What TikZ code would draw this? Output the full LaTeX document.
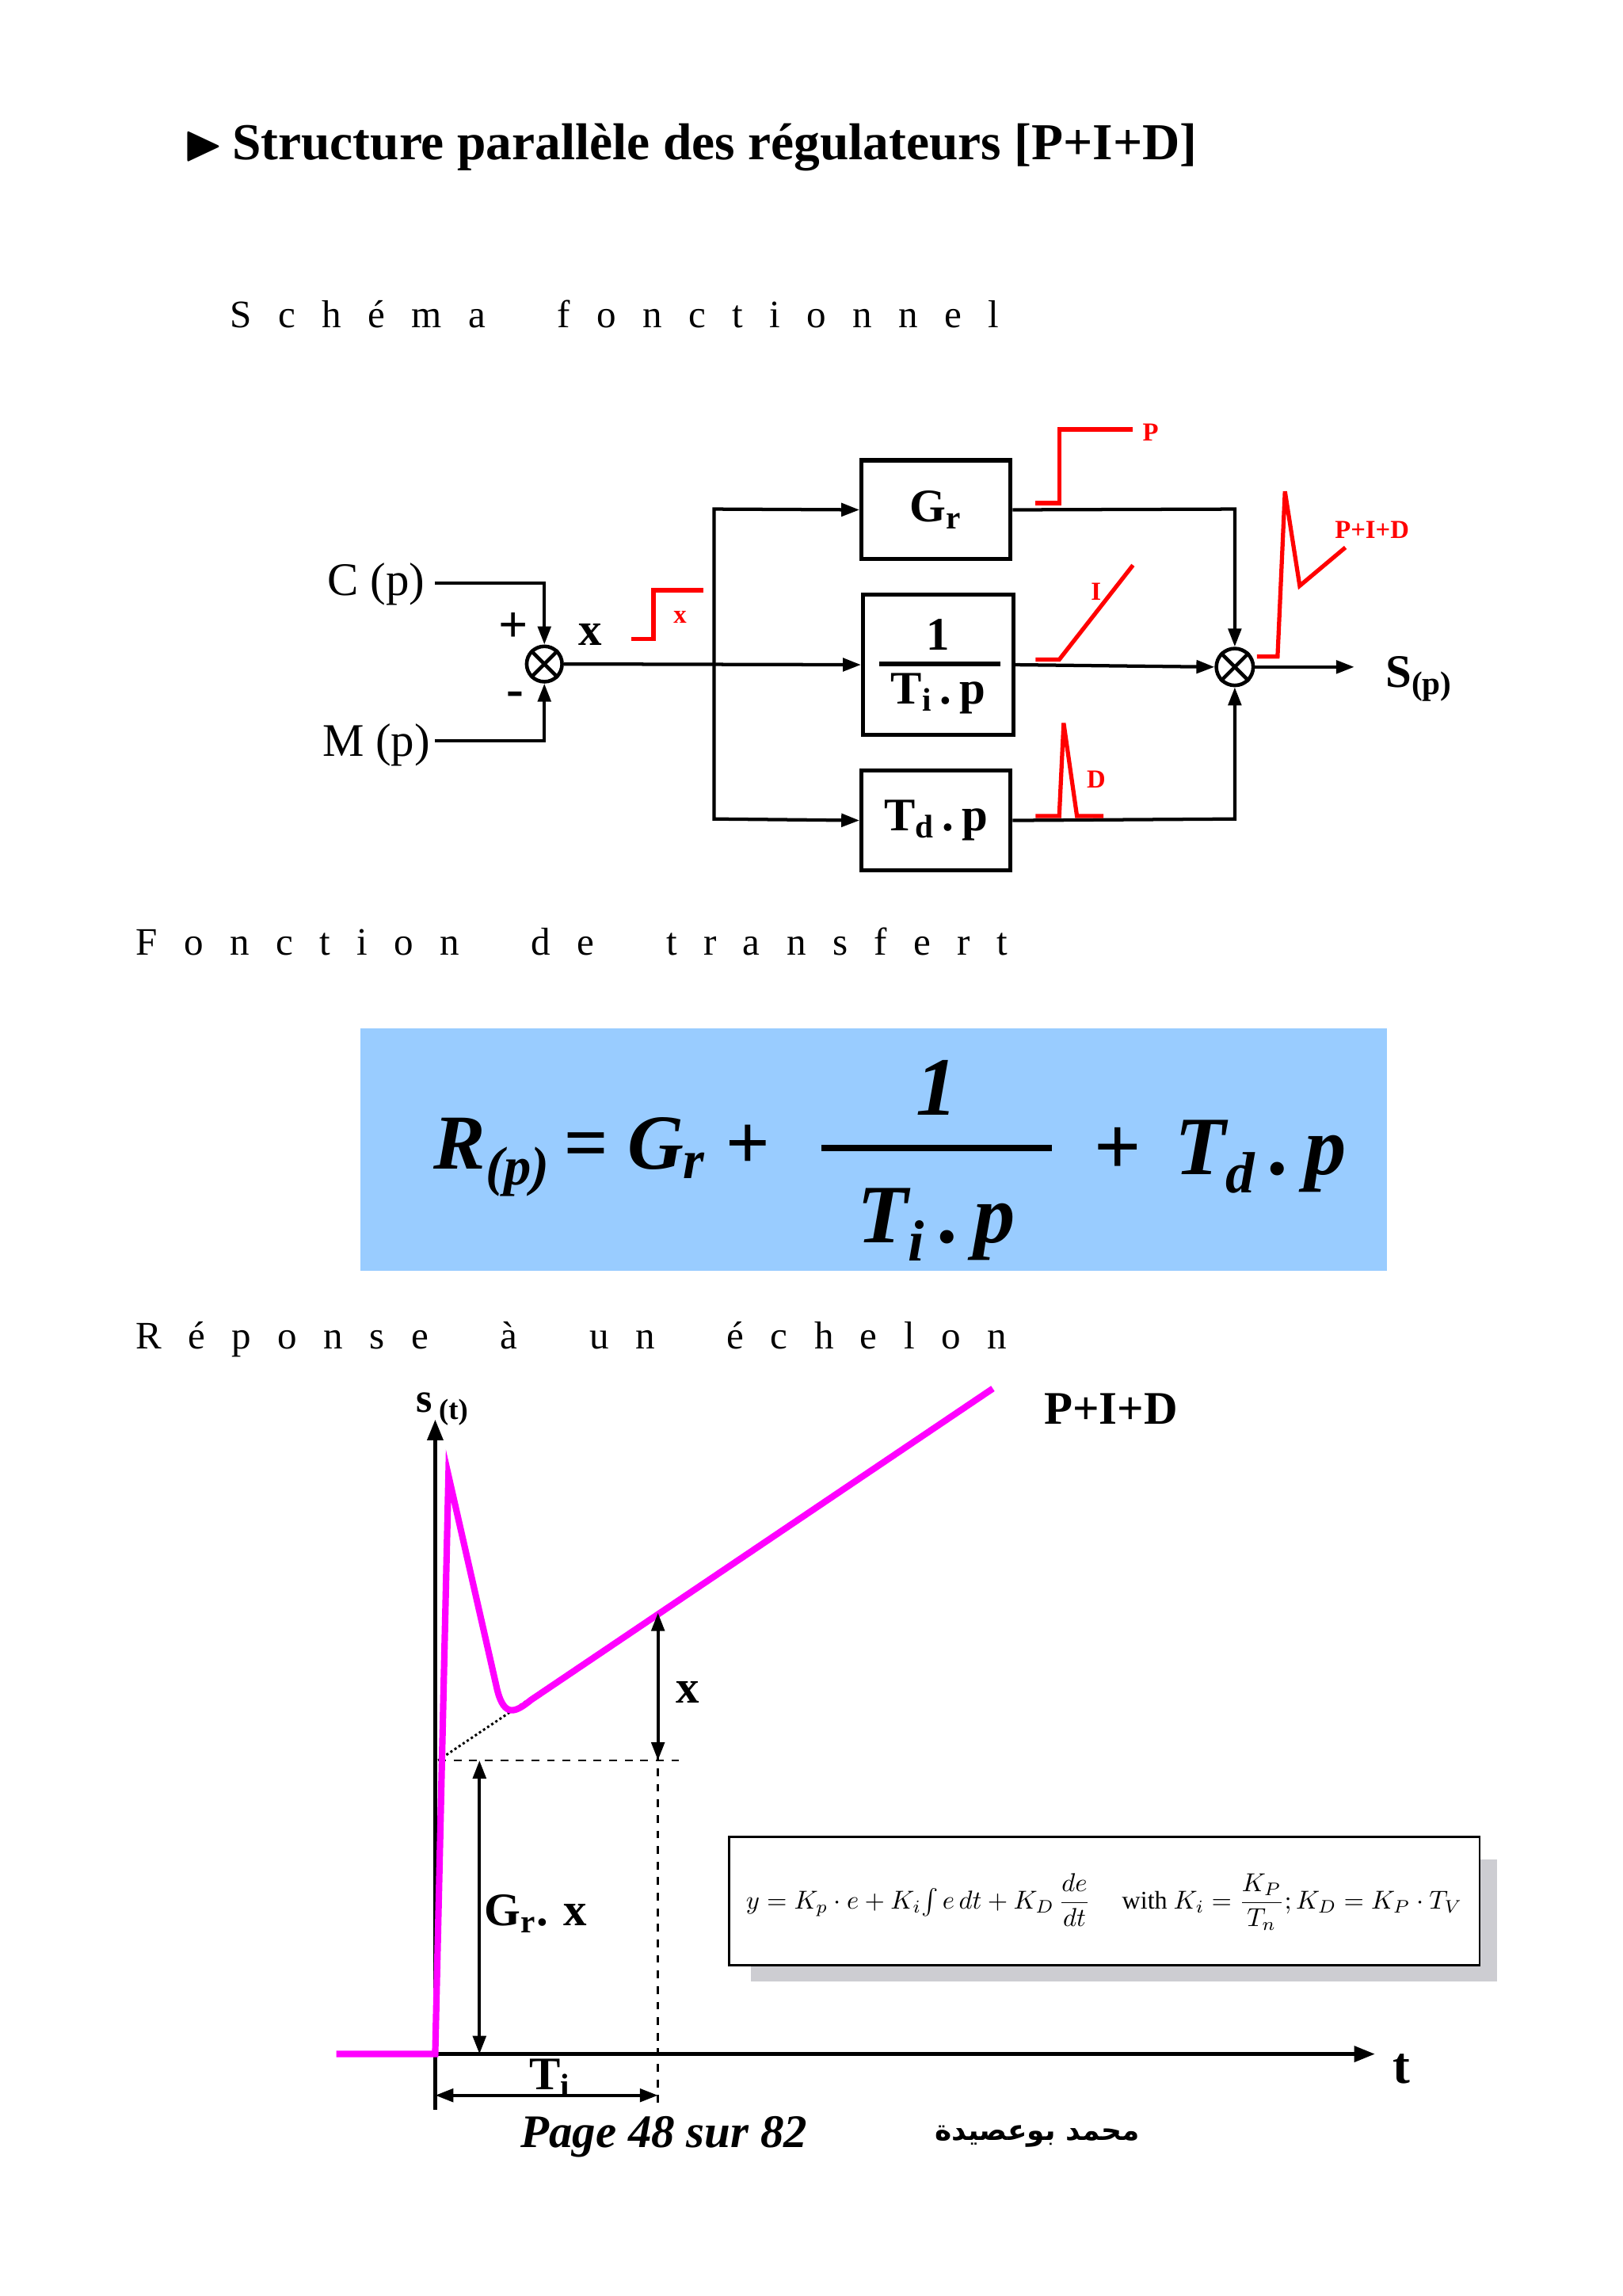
\documentclass[tikz,border=0pt]{standalone}
\usepackage{amsmath,amssymb}
\usepackage{fontspec}
\setmainfont{Liberation Serif}
\newfontfamily\arab[Script=Arabic]{DejaVu Sans}
\usetikzlibrary{arrows.meta}
\definecolor{boxblue}{HTML}{99CCFF}
\definecolor{mag}{HTML}{FF00FF}
\definecolor{shad}{HTML}{CDCDD2}
\TeXXeTstate=1
\newcommand{\ls}{\hspace{0.68em}}
\newcommand{\ws}{\hspace{1.85em}}
\begin{document}
\begin{tikzpicture}[x=0.02cm,y=-0.02cm,
  blk/.style={draw,line width=1.6pt,inner sep=0pt},
  ln/.style={line width=1.3pt},
  ar/.style={ln,-{Triangle[length=7pt,width=5pt]}},
  rd/.style={red,line width=1.6pt},
  rlab/.style={red,font=\fontsize{10}{12}\selectfont\bfseries},
  lab/.style={font=\fontsize{18}{20}\selectfont},
  sp/.style={font=\fontsize{15}{18}\selectfont,anchor=west}]
\useasboundingbox (0,0) rectangle (1100,1556);
% title
\node[anchor=west,font=\fontsize{20}{24}\selectfont\bfseries] (title) at (118,100) {$\blacktriangleright$\,Structure parallèle des régulateurs [P+I+D]};
\node[sp] (s1) at (150,213) {S\ls c\ls h\ls é\ls m\ls a\ws f\ls o\ls n\ls c\ls t\ls i\ls o\ls n\ls n\ls e\ls l};
% block diagram
\node[lab] (C) at (255,396) {C (p)};
\node[lab] (M) at (255,505) {M (p)};
\node[draw,circle,line width=1.4pt,inner sep=0pt,minimum size=0.48cm] (s1c) at (369,450) {};
\draw[line width=1.4pt] (s1c.north east)--(s1c.south west) (s1c.north west)--(s1c.south east);
\node[font=\fontsize{20}{20}\selectfont\bfseries] (plus) at (348,425) {+};
\node[font=\fontsize{20}{20}\selectfont\bfseries] (minus) at (349,474) {-};
\node[lab,font=\fontsize{18}{20}\selectfont\bfseries] (xl) at (400,430) {x};
\coordinate (c1) at (295,395); \coordinate (c2) at (369,395);
\coordinate (m1) at (295,502); \coordinate (m2) at (369,502);
\draw[ar] (c1)--(c2)--(s1c.north);
\draw[ar] (m1)--(m2)--(s1c.south);
\node[blk,minimum width=2.02cm,minimum height=1.34cm,font=\fontsize{18}{20}\selectfont\bfseries] (G) at (634.5,345.5) {G\textsubscript{r}};
\node[blk,minimum width=2.04cm,minimum height=1.9cm] (I) at (636,450.5) {};
\node[font=\fontsize{18}{20}\selectfont\bfseries] (I1) at (636,430) {1};
\node[font=\fontsize{18}{20}\selectfont\bfseries] (I2) at (636,470) {T\textsubscript{i}\,.\,p};
\coordinate (ib1) at (596,450); \coordinate (ib2) at (678,450);
\draw[line width=2pt] (ib1)--(ib2);
\node[blk,minimum width=2.02cm,minimum height=1.36cm,font=\fontsize{18}{20}\selectfont\bfseries] (D) at (634.5,556) {T\textsubscript{d}\,.\,p};
\node[draw,circle,line width=1.4pt,inner sep=0pt,minimum size=0.5cm] (s2c) at (837,452) {};
\draw[line width=1.4pt] (s2c.north east)--(s2c.south west) (s2c.north west)--(s2c.south east);
\coordinate (b1) at (484,345); \coordinate (b2) at (484,555); \coordinate (b0) at (484,450);
\draw[ar] (s1c.east)--(I.west);
\draw[ar] (b0)--(b1)--(G.west);
\draw[ar] (b0)--(b2)--(D.west);
\coordinate (g2) at (837,345); \coordinate (d2) at (837,555);
\draw[ar] (G.east)--(g2)--(s2c.north);
\draw[ar] (I.east)--(s2c.west);
\draw[ar] (D.east)--(d2)--(s2c.south);
\coordinate (out) at (918,452);
\draw[ar] (s2c.east)--(out);
\node[font=\fontsize{18}{20}\selectfont\bfseries] (S) at (962,460) {S\textsubscript{(p)}};
% red signals
\draw[rd] (428,433)--(443,433)--(443,400)--(477,400);
\node[rlab] (rx) at (461,418) {x};
\draw[rd] (702,341)--(718,341)--(718,291)--(768,291);
\node[rlab] (rP) at (780,293) {P};
\draw[rd] (702,447)--(718,447)--(768,383);
\node[rlab] (rI) at (743,401) {I};
\draw[rd] (702,553)--(718,553)--(721,490)--(730,553)--(748,553);
\node[rlab] (rD) at (743,528) {D};
\draw[rd] (852,445)--(866,445)--(871,333)--(881,397)--(912,371);
\node[rlab] (rPID) at (930,359) {P+I+D};
% transfer function
\node[sp] (s2) at (86,638) {F\ls o\ls n\ls c\ls t\ls i\ls o\ls n\ws d\ls e\ws t\ls r\ls a\ls n\ls s\ls f\ls e\ls r\ls t};
\node[fill=boxblue,minimum width=13.92cm,minimum height=3.28cm,inner sep=0pt] (tf) at (592,779) {};
\node[font=\fontsize{30}{36}\selectfont\bfseries\itshape,anchor=west] (f1) at (288,784) {R\textsubscript{(p)}\,= G\textsubscript{r} +};
\node[font=\fontsize{32}{36}\selectfont\bfseries\itshape] (f2) at (635,737) {1};
\node[font=\fontsize{32}{36}\selectfont\bfseries\itshape] (f3) at (635,830) {T\textsubscript{i}\,.\,p};
\coordinate (fr1) at (557,778); \coordinate (fr2) at (713,778);
\draw[line width=2.6pt] (fr1)--(fr2);
\node[font=\fontsize{32}{36}\selectfont\bfseries\itshape,anchor=west] (f4) at (735,784) {+ \,T\textsubscript{d}\,.\,p};
% step response
\node[sp] (s3) at (86,908) {R\ls é\ls p\ls o\ls n\ls s\ls e\ws à\ws u\ls n\ws é\ls c\ls h\ls e\ls l\ls o\ls n};
\coordinate (O) at (295,1392); \coordinate (Ybot) at (295,1430);
\coordinate (Ytop) at (295,962); \coordinate (Xend) at (932,1392);
\draw[line width=1.4pt,-{Triangle[length=8pt,width=6pt]}] (Ybot)--(Ytop);
\draw[line width=1.4pt,-{Triangle[length=8pt,width=6pt]}] (O)--(Xend);
\node[font=\fontsize{16}{18}\selectfont\bfseries] (st) at (300,955) {s\,\textsubscript{(t)}};
\node[font=\fontsize{20}{20}\selectfont\bfseries] (tl) at (950,1402) {t};
\node[font=\fontsize{18}{20}\selectfont\bfseries] (pid) at (753,955) {P+I+D};
\coordinate (tg1) at (297,1193); \coordinate (tg2) at (510,1050);
\draw[densely dotted,line width=0.9pt] (tg1)--(tg2);
\coordinate (h1) at (297,1193); \coordinate (h2) at (463,1193);
\draw[dashed,line width=0.8pt] (h1)--(h2);
\coordinate (v1) at (446,1093); \coordinate (v2) at (446,1425);
\draw[dashed,line width=0.8pt] (v1)--(v2);
\draw[mag,line width=2.5pt] (228,1392)--(295,1392)--(304,1000)--(337,1145) .. controls (342,1165) and (350,1160) .. (360,1152)--(673,941);
\coordinate (xa) at (446,1093); \coordinate (xb) at (446,1193);
\draw[ln,{Triangle[length=7pt,width=5pt]}-{Triangle[length=7pt,width=5pt]}] (xa)--(xb);
\node[font=\fontsize{18}{20}\selectfont\bfseries] (xx) at (466,1147) {x};
\coordinate (ga) at (325,1193); \coordinate (gb) at (325,1392);
\draw[ln,{Triangle[length=7pt,width=5pt]}-{Triangle[length=7pt,width=5pt]}] (ga)--(gb);
\node[font=\fontsize{18}{20}\selectfont\bfseries] (grx) at (363,1297) {G\textsubscript{r}. x};
\coordinate (ta) at (295,1420); \coordinate (tb) at (446,1420);
\draw[ln,{Triangle[length=7pt,width=5pt]}-{Triangle[length=7pt,width=5pt]}] (ta)--(tb);
\node[font=\fontsize{18}{20}\selectfont\bfseries] (til) at (373,1408) {T\textsubscript{i}};
% equation box
\fill[shad] (509,1260) rectangle (1015,1343);
\node[draw,fill=white,line width=0.9pt,minimum width=10.18cm,minimum height=1.74cm,inner sep=0pt] (eq) at (748.5,1288.5) {};
\node[font=\fontsize{9.8}{12}\selectfont] (eqt) at (748.5,1289) {$y=K_p\cdot e+K_i\!\int e\,dt+K_D\,\dfrac{de}{dt}$\quad\ with $K_i=\dfrac{K_P}{T_n};K_D=K_P\cdot T_V$};
% footer
\node[font=\fontsize{18}{20}\selectfont\bfseries\itshape] (pg) at (450,1448) {Page 48 sur 82};
\node[font=\fontsize{11}{14}\arab\bfseries] (ar) at (703,1448) {\beginR محمد بوعصيدة\endR};
\end{tikzpicture}
\end{document}
